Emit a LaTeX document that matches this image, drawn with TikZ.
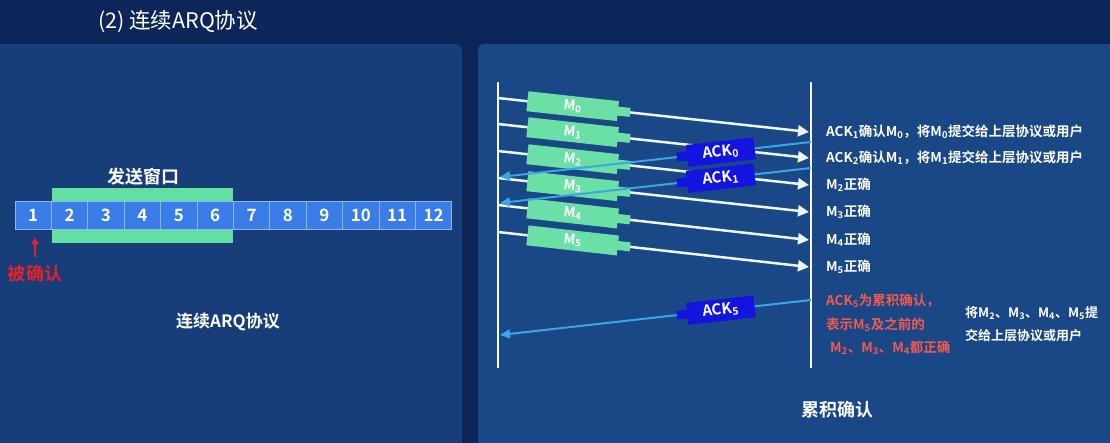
\documentclass[tikz,border=0pt]{standalone}
\usepackage{fontspec}
\setmainfont{Noto Sans CJK SC}[BoldFont={Noto Sans CJK SC Bold}]
\usetikzlibrary{arrows.meta}

\definecolor{topbg}{HTML}{0C2659}
\definecolor{panelL}{HTML}{173E78}
\definecolor{panelR}{HTML}{1A4786}
\definecolor{cellblue}{HTML}{3B7DE6}
\definecolor{cellline}{HTML}{8FB4F2}
\definecolor{wingreen}{HTML}{62E0A2}
\definecolor{pktgreen}{HTML}{6BE0A6}
\definecolor{ackline}{HTML}{3AA6E6}
\definecolor{ackblue}{HTML}{1414E0}
\definecolor{marked}{HTML}{E8202A}
\definecolor{note}{HTML}{F25A50}

\newcommand\sbs[1]{\textsubscript{#1}}
\newcommand\fs[1]{\fontsize{#1}{#1}\selectfont}

\tikzset{
  panel/.style={fill=#1, rounded corners=6pt},
  cell/.style={fill=cellblue, draw=cellline, line width=0.7pt, minimum width=36.4pt,
    minimum height=28pt, inner sep=0pt, text=white, font=\fs{17}\bfseries},
  window/.style={fill=wingreen, minimum width=181pt, minimum height=55pt, inner sep=0pt},
  timeline/.style={draw=white, line width=2.5pt},
  msg/.style={draw=white!92!cyan, line width=2.5pt, -{Triangle[length=11pt,width=11pt]}},
  ack/.style={draw=ackline, line width=2pt, -{Triangle[length=10pt,width=9pt]}},
  pkt/.style={sloped, fill=pktgreen, minimum width=91pt, minimum height=20pt,
    inner sep=0pt, text=white, font=\fs{14}\bfseries},
  pkttip/.style={sloped, fill=pktgreen, minimum width=13pt, minimum height=9pt, inner sep=0pt},
  ackbox/.style={sloped, fill=ackblue, minimum width=68pt, minimum height=22pt,
    inner sep=0pt, text=white, font=\fs{15}\bfseries},
  acktip/.style={sloped, fill=ackblue, minimum width=11pt, minimum height=9pt, inner sep=0pt},
  lbl/.style={anchor=west, inner sep=0pt, text=white, font=\fs{13.5}\bfseries},
  redlbl/.style={anchor=west, inner sep=0pt, text=note, font=\fs{13.5}\bfseries},
  heading/.style={text=white, font=\fs{#1}\bfseries}
}

\begin{document}
\begin{tikzpicture}[x=1pt, y=-1pt]
  % background and the two panels
  \useasboundingbox (0,0) rectangle (1110,442);
  \fill[topbg] (-5,-5) rectangle (1115,447);
  \fill[panel=panelL] (-10,44) rectangle (462,452);
  \fill[panel=panelR] (478,44) rectangle (1120,452);

  \node[text=white, font=\fs{21.5}] (title) at (178,22) {(2) 连续ARQ协议};

  % sequence of frames with the send window
  \node[window] (win) at (142.5,215.5) {};
  \node[heading=18] (winlbl) at (143,177) {发送窗口};
  \foreach \i in {1,...,12}
    \node[cell] (c\i) at ({15+36.4*(\i-0.5)},215) {\i};
  \node[text=marked, font=\fs{18}\bfseries] (done) at (35,274) {被确认};
  \draw[marked, line width=2pt, -{Triangle[length=7pt,width=7pt]}, shorten <=5pt, shorten >=8pt]
    (done.north) -- (done.north |- c1.south);
  \node[heading=17] (arq) at (228,322) {连续ARQ协议};

  % sender and receiver time lines
  \coordinate (sTop) at (498,82);
  \coordinate (sBot) at (498,368);
  \coordinate (rTop) at (811,82);
  \coordinate (rBot) at (811,368);
  \draw[timeline] (sTop) -- (sBot);
  \draw[timeline] (rTop) -- (rBot);

  % frames M0 ... M5
  \foreach \k/\ys/\yr in {0/98/132, 1/124/158, 2/151/185, 3/178/212, 4/205/240, 5/232/267} {
    \coordinate (s\k) at (498,\ys);
    \coordinate (r\k) at (809,\yr);
    \draw[msg] (s\k) -- (r\k)
      node[pkt, pos=0.24] (m\k) {M\sbs{\k}}
      node[pkttip, pos=0.404] (mt\k) {};
  }

  % acknowledgements
  \foreach \k/\yr/\ys in {0/142/177, 1/168/203, 5/300/335} {
    \coordinate (ra\k) at (811,\yr);
    \coordinate (sa\k) at (500,\ys);
    \draw[ack] (ra\k) -- (sa\k)
      node[ackbox, pos=0.29] (a\k) {ACK\sbs{\k}}
      node[acktip, pos=0.414] (at\k) {};
  }

  % receiver notes
  \node[lbl] (n0) at (826,132) {ACK\sbs{1}确认M\sbs{0}，将M\sbs{0}提交给上层协议或用户};
  \node[lbl] (n1) at (826,158) {ACK\sbs{2}确认M\sbs{1}，将M\sbs{1}提交给上层协议或用户};
  \foreach \k/\y in {2/185, 3/212, 4/240, 5/267}
    \node[lbl] (n\k) at (826,\y) {M\sbs{\k}正确};

  \node[redlbl] (red1) at (826,301) {ACK\sbs{5}为累积确认，};
  \node[redlbl] (red2) at (826,325) {表示M\sbs{5}及之前的};
  \node[redlbl] (red3) at (830,348) {M\sbs{2}、M\sbs{3}、M\sbs{4}都正确};

  \node[lbl, font=\fs{13}\bfseries] (up1) at (965,313) {将M\sbs{2}、M\sbs{3}、M\sbs{4}、M\sbs{5}提};
  \node[lbl, font=\fs{13}\bfseries] (up2) at (965,336) {交给上层协议或用户};

  \node[heading=18] (cum) at (837,410) {累积确认};
\end{tikzpicture}
\end{document}
